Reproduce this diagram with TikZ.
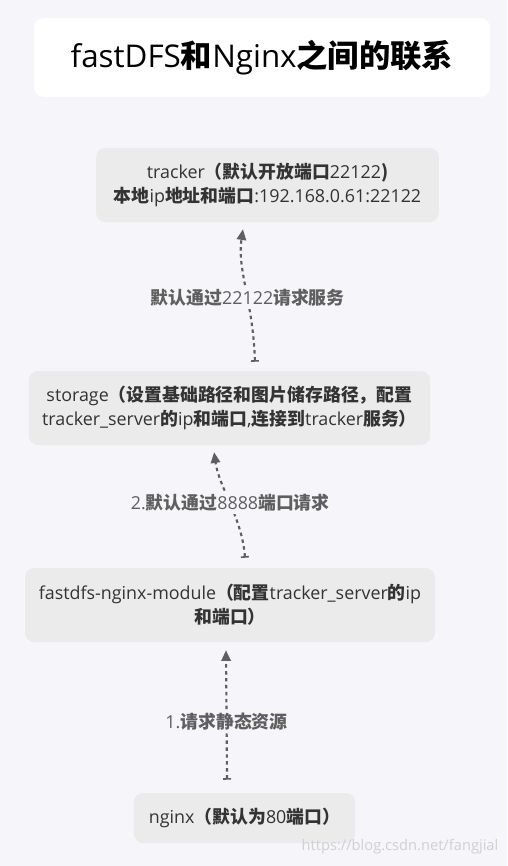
\documentclass[tikz,border=0pt]{standalone}
\usepackage{fontspec}
\setmainfont{Open Sans}
\newfontfamily\cjk{Noto Sans CJK SC}
\usetikzlibrary{arrows.meta}

\definecolor{pagebg}{RGB}{245,245,250}
\definecolor{boxfill}{RGB}{235,235,235}
\definecolor{boxtext}{RGB}{51,51,51}
\definecolor{linkgray}{RGB}{95,95,95}

\newcommand{\zh}[1]{{\cjk\bfseries #1}}

\begin{document}
\begin{tikzpicture}[x=0.75pt, y=-0.75pt,
  card/.style={fill=boxfill, rounded corners=7pt, text=boxtext, align=center,
    font=\fontsize{13.4}{18}\selectfont, inner sep=0pt},
  link/.style={draw=linkgray, line width=1.6pt, dash pattern=on 2.6pt off 2.6pt,
    {Bar[width=6pt,line width=1.2pt]}-{Triangle[length=8pt,width=7pt]}},
  lbl/.style={fill=pagebg, text=linkgray, inner sep=2pt,
    font=\fontsize{13.4}{15}\selectfont}]
  \fill[pagebg] (0, 0) rectangle (507, 866);
  \useasboundingbox (0, 0) rectangle (507, 866);

  % Title
  \node[fill=white, rounded corners=7pt, minimum width=342pt, minimum height=59pt,
    font=\fontsize{23.5}{26}\selectfont] (title) at (262, 57.5)
    {fastDFS\zh{和}Nginx\zh{之间的联系}};

  % Boxes
  \node[card, minimum width=257pt, minimum height=55.5pt] (tracker) at (267.5, 185)
    {tracker\zh{（默认开放端口}22122\zh{)}\\\zh{本地}ip\zh{地址和端口}:192.168.0.61:22122};
  \node[card, minimum width=301pt, minimum height=55.5pt] (storage) at (229.5, 408)
    {storage\zh{（设置基础路径和图片储存路径，配置}\\tracker\_server\zh{的}ip\zh{和端口},\zh{连接到}tracker\zh{服务）}};
  \node[card, minimum width=307.5pt, minimum height=55.5pt] (module) at (230, 605)
    {fastdfs-nginx-module\zh{（配置}tracker\_server\zh{的}ip\\\zh{和端口）}};
  \node[card, minimum width=166pt, minimum height=37.5pt] (nginx) at (244.5, 818)
    {nginx\zh{（默认为}80\zh{端口）}};

  % Links
  \draw[link] ([xshift=19.1pt, yshift=6.75pt]storage.north)
    .. controls +(-2, -60) and +(-6, 40) ..
    node[lbl, pos=0.42] {\zh{默认通过}22122\zh{请求服务}}
    ([xshift=-18.4pt, yshift=-5.25pt]tracker.south);
  \draw[link] ([xshift=11.25pt, yshift=7.5pt]module.north)
    .. controls +(-3, -40) and +(5, 35) ..
    node[lbl] {2.\zh{默认通过}8888\zh{端口请求}}
    ([xshift=-11.6pt, yshift=-5.25pt]storage.south);
  \draw[link] ([xshift=-13.1pt, yshift=9.75pt]nginx.north)
    -- node[lbl, pos=0.45] {1.\zh{请求静态资源}}
    ([xshift=-3pt, yshift=-6pt]module.south);

  % Watermark
  \node[text=white!82!black, font=\fontsize{11}{13}\selectfont] (mark) at (400, 847)
    {https://blog.csdn.net/fangjial};
\end{tikzpicture}
\end{document}
